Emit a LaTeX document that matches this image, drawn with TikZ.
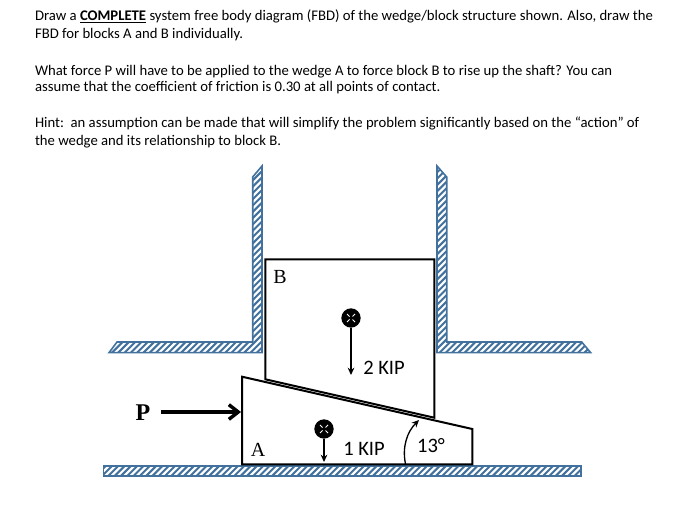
\documentclass[tikz,border=0pt]{standalone}
\usepackage{fontspec}
\setmainfont{Carlito}
\newfontfamily\serifface{Liberation Serif}
\definecolor{wallblue}{HTML}{41719C}
\tikzset{
  x=0.75pt,y=-0.75pt,
  para/.style={anchor=base west,inner sep=0pt,outer sep=0pt,font=\fontsize{11.03}{13}\selectfont},
  body/.style={draw=black,line width=1.5pt,line join=miter,fill=white},
  wall/.style={draw=wallblue,line width=1.2pt,line join=miter},
  stripe/.style={draw=wallblue,line width=1.5pt},
  sideload/.style={inner sep=0pt,font=\fontsize{15.4}{18}\selectfont},
  letter/.style={inner sep=0pt,font=\serifface\fontsize{15}{17}\selectfont},
  ball/.style={circle,fill=black,minimum size=14.5pt,inner sep=0pt},
  crossmark/.style={draw=white,line width=.6pt},
  loadarrow/.style={draw=black,line width=0.9pt,-{Stealth[length=5.5pt,width=5pt]}}
}
\usetikzlibrary{arrows.meta}
\newcommand{\hatched}[1]{%
  \begin{scope}
    \clip #1;
    \foreach \k in {-300,-293.7,...,800}{
      \draw[stripe] (\k,500) -- (\k+500,0);
    }
  \end{scope}
  \draw[wall] #1;
}
\begin{document}
\begin{tikzpicture}
\useasboundingbox (0,0) rectangle (678,505);
% text
\node[para] (l1) at (35,20.5) {Draw a \textbf{\underline{COMPLETE}} system free body diagram (FBD) of the wedge/block structure shown. Also, draw the};
\node[para] (l2) at (35,39) {FBD for blocks A and B individually.};
\node[para] (l3) at (35,76) {What force P will have to be applied to the wedge A to force block B to rise up the shaft? You can};
\node[para] (l4) at (35,92) {assume that the coefficient of friction is 0.30 at all points of contact.};
\node[para] (l5) at (35,127.5) {Hint:\ \ an assumption can be made that will simplify the problem significantly based on the “action” of};
\node[para] (l6) at (35,146) {the wedge and its relationship to block B.};
% walls and ground
\hatched{(262,166) -- (252.7,177) -- (252.7,342) -- (117,342) -- (109,352.7) -- (262,352.7) -- cycle}
\hatched{(437,166) -- (446.7,177) -- (446.7,342) -- (581.7,342) -- (590.7,352.7) -- (437,352.7) -- cycle}
\hatched{(103.3,466) -- (580.7,466) -- (580.7,476) -- (103.3,476) -- cycle}
% wedge and block
\draw[body] (242,376.7) -- (242,464.3) -- (472.3,464.3) -- (472.3,429) -- cycle;
\draw[body] (265.3,259.3) -- (434.3,259.3) -- (434.3,417.7) -- (265.3,379.3) -- cycle;
% labels
\node[letter] (labB) at (280,277) {B};
\node[letter] (labA) at (258,450) {A};
\node[inner sep=0pt,font=\serifface\bfseries\fontsize{18}{20}\selectfont] (labP) at (143,413) {P};
\node[sideload] (kip2) at (384,368) {2 KIP};
\node[sideload] (kip1) at (364,449) {1 KIP};
\node[sideload] (ang) at (431,446) {13°};
% P arrow
\coordinate (ptail) at (161,412);
\coordinate (phead) at (241,412);
\draw[line width=2.6pt,-{Straight Barb[length=7pt,width=11pt]}] (ptail) -- (phead);
% weight of B
\node[ball] (ballB) at (351,318) {};
\draw[crossmark] (347,314) -- (349.5,316.5) (352.5,319.5) -- (355,322) (347,322) -- (349.5,319.5) (352.5,316.5) -- (355,314);
\coordinate (endB) at (351,375);
\draw[loadarrow] (ballB) -- (endB);
% weight of A
\node[ball] (ballA) at (324,429) {};
\draw[crossmark] (320,425) -- (322.5,427.5) (325.5,430.5) -- (328,433) (320,433) -- (322.5,430.5) (325.5,427.5) -- (328,425);
\coordinate (endA) at (324,462);
\draw[loadarrow] (ballA) -- (endA);
% angle arc
\coordinate (arcs) at (405.5,464);
\coordinate (arce) at (419,420);
\draw[black,line width=1pt,-{Stealth[length=5.5pt,width=5pt]}] (arcs) .. controls (402,447) and (407,432) .. (arce);
\end{tikzpicture}
\end{document}
